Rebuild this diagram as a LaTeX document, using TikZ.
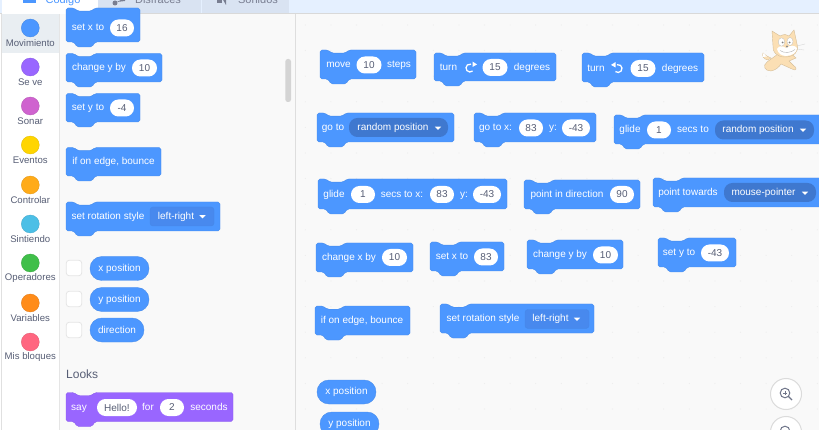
\documentclass[tikz,border=0pt]{standalone}
\usepackage{fontspec}
\setmainfont{Liberation Sans}
\definecolor{motion}{HTML}{4C97FF}
\definecolor{motionedge}{HTML}{4A8DEB}
\definecolor{menudark}{HTML}{3F78CF}
\definecolor{menulite}{HTML}{4889EE}
\definecolor{looks}{HTML}{9966FF}
\definecolor{inktext}{HTML}{575E75}
\definecolor{canvas}{HTML}{F9F9F9}
\definecolor{headbg}{HTML}{E5F0FF}
\definecolor{tabbg}{HTML}{D9E3F2}
\definecolor{catfur}{HTML}{FBDFB4}
\definecolor{activecat}{HTML}{E9EEF2}
\newcommand{\blockshape}[5]{%
  \path[fill=#5,draw=#5!92!black,line width=.4pt,rounded corners=1.8pt]
    (#1,#2) -- (#1+8,#2) -- (#1+12,#2+3.2) -- (#1+25,#2+3.2) -- (#1+29,#2)
    -- (#1+#3,#2) -- (#1+#3,#2+#4) -- (#1+29,#2+#4) -- (#1+26,#2+#4+5)
    -- (#1+11,#2+#4+5) -- (#1+8,#2+#4) -- (#1,#2+#4) -- cycle;}
\newcommand{\droparrow}[3]{\fill[#3] (#1-3.2,#2-1.4) -- (#1+3.2,#2-1.4) -- (#1,#2+1.8) -- cycle;}
\tikzset{
  btxt/.style={text=white,font=\fontsize{10}{12}\selectfont,inner sep=0pt,text height=7.2pt,text depth=2pt},
  pillbox/.style={fill=white,text=inktext,font=\fontsize{10}{12}\selectfont,rounded corners=8.4pt,minimum height=17pt,inner sep=0pt},
  menubox/.style={fill=menudark,text=white,rounded corners=8.4pt,minimum height=19pt,inner sep=0pt},
  rotbox/.style={fill=menulite,draw=menudark!50!motion,line width=.4pt,text=white,rounded corners=3pt,minimum height=19pt,inner sep=0pt},
  reporter/.style={fill=motion,draw=motionedge,line width=.4pt,text=white,font=\fontsize{10}{12}\selectfont,rounded corners=11.8pt,minimum height=24pt,inner sep=0pt},
  catlabel/.style={text=inktext,font=\fontsize{9.6}{11}\selectfont,inner sep=0pt},
  catdot/.style={circle,minimum size=18pt,inner sep=0pt},
  checkb/.style={fill=white,draw=black!10,line width=.8pt,rounded corners=3pt,minimum size=15.5pt,inner sep=0pt},
  tabtxt/.style={font=\fontsize{11}{12}\selectfont,inner sep=0pt,anchor=base},
}
\begin{document}
\begin{tikzpicture}[x=1pt,y=-1pt]
\useasboundingbox (0,0) rectangle (819,430);
\clip (0,0) rectangle (819,430);
% backgrounds
\fill[white] (0,0) rectangle (819,430);
\fill[canvas] (59,14) rectangle (819,430);
\fill[headbg] (0,0) rectangle (819,13);
\fill[black!15] (0,13) rectangle (819,14);
\fill[white] (2,0) rectangle (98,14);
\fill[tabbg] (98,0) rectangle (201,13);
\fill[tabbg] (202,0) rectangle (289,13);
\fill[black!12] (1,14) rectangle (2,430);
\fill[black!10] (59,14) rectangle (60,430);
\fill[black!13] (295,14) rectangle (296,430);
\foreach \i in {0,...,20}{\foreach \j in {0,...,16}{
  \fill[black!7] (305.3+\i*25.6,25+\j*25.6) circle (.6);}}
\fill[black!17,rounded corners=2.5pt] (285.3,59) rectangle (291,102);
% tabs
\fill[motion] (23,-4) rectangle (36,3.5);
\node[tabtxt,text=motion] (tabcode) at (63,3.2) {Código};
\fill[inktext!80] (115,3) circle (2.5); \fill[inktext!80] (117,2) -- (125,-2) -- (125,1) -- cycle;
\node[tabtxt,text=inktext!80] (tabcost) at (158,3.2) {Disfraces};
\fill[inktext!80] (217,-2) rectangle (222,3); \fill[inktext!80] (222,-2) -- (226,-2) -- (226,5) -- cycle;
\node[tabtxt,text=inktext!80] (tabsound) at (258,3.2) {Sonidos};
% category column
\fill[activecat] (2,14) rectangle (59,53);
\foreach \lbl/\n/\col/\yy in {
 Movimiento/a/4C97FF/28, Se ve/b/9966FF/67, Sonar/c/CF63CF/106, Eventos/d/FFD500/145,
 Controlar/e/FFAB19/185, Sintiendo/f/4CBFE6/224, Operadores/g/40BF4A/263, Variables/h/FF8C1A/303, Mis bloques/i/FF6680/342}{
  \definecolor{dotc}{HTML}{\col}
  \node[catdot,fill=dotc,draw=dotc!88!black,line width=.3pt] (dot\n) at (30.3,\yy) {};
  \node[catlabel] (lab\n) at (30.3,\yy+15.5) {\lbl};
}
% palette blocks
\blockshape{66}{8}{74}{34}{motion}
\node[btxt] (ptxa) at (88,28) {set x to};
\node[pillbox,minimum width=24pt] (ppa) at (122,28) {16};
\blockshape{66}{53.5}{96}{28.5}{motion}
\node[btxt] (ptxb) at (99,68) {change y by};
\node[pillbox,minimum width=25pt] (ppb) at (144.5,68) {10};
\blockshape{66}{93.5}{74}{28.5}{motion}
\node[btxt] (ptxc) at (88,108) {set y to};
\node[pillbox,minimum width=24pt] (ppc) at (122,108) {-4};
\blockshape{66}{147.5}{95}{28.5}{motion}
\node[btxt] (ptxd) at (113.5,162) {if on edge, bounce};
\blockshape{66}{202}{154}{29}{motion}
\node[btxt] (ptxe) at (108,216.5) {set rotation style};
\node[rotbox,minimum width=64pt] (pme) at (182,216.5) {};
\node[btxt] (ptme) at (176,216.5) {left-right};
\droparrow{202.5}{216.5}{white}
\node[checkb] (cka) at (74,268) {};
\node[checkb] (ckb) at (74,299) {};
\node[checkb] (ckc) at (74,330) {};
\node[reporter,minimum width=59pt] (pra) at (119.5,268.5) {x position};
\node[reporter,minimum width=59pt] (prb) at (119.5,299.5) {y position};
\node[reporter,minimum width=54pt] (prc) at (117,330) {direction};
\node[text=inktext,font=\fontsize{12}{14}\selectfont,inner sep=0pt,anchor=west] (lookshead) at (66,374) {Looks};
\blockshape{66}{392.5}{167}{29}{looks}
\node[btxt] (sa) at (79,407.5) {say};
\node[pillbox,minimum width=40pt] (sb) at (117,407.5) {Hello!};
\node[btxt] (sc) at (148,407.5) {for};
\node[pillbox,minimum width=24pt] (sd) at (172,407.5) {2};
\node[btxt] (se) at (209,407.5) {seconds};
% workspace row 1
\blockshape{320}{50}{96}{29}{motion}
\node[btxt] (wa) at (338.5,65) {move};
\node[pillbox,minimum width=25pt] (wb) at (369,65) {10};
\node[btxt] (wc) at (399,65) {steps};
\blockshape{434}{53}{122}{28}{motion}
\node[btxt] (wd) at (448.5,67.5) {turn};
\draw[white,line width=1.3pt] (470,68) ++(50:4) arc[start angle=50,end angle=285,radius=4];
\fill[white] (472.5,61.6) -- (477,64.4) -- (472.5,67) -- cycle;
\node[pillbox,minimum width=25pt] (we) at (495,67.5) {15};
\node[btxt] (wf) at (532,67.5) {degrees};
\blockshape{582}{53}{122}{29}{motion}
\node[btxt] (wg) at (596,68.5) {turn};
\draw[white,line width=1.3pt] (618,68.5) ++(130:4) arc[start angle=130,end angle=-105,radius=4];
\fill[white] (615.5,62.1) -- (611,64.9) -- (615.5,67.5) -- cycle;
\node[pillbox,minimum width=25pt] (wh) at (643,68.5) {15};
\node[btxt] (wi) at (680,68.5) {degrees};
% workspace row 2
\blockshape{317}{113}{137}{29}{motion}
\node[btxt] (wj) at (333,128) {go to};
\node[menubox,minimum width=99pt] (wk) at (398.5,127.5) {};
\node[btxt] (wkt) at (393,128) {random position};
\droparrow{438}{128}{white}
\blockshape{474}{113}{122}{29}{motion}
\node[btxt] (wl) at (495.5,128) {go to x:};
\node[pillbox,minimum width=24pt] (wm) at (531,128) {83};
\node[btxt] (wn) at (553,128) {y:};
\node[pillbox,minimum width=28pt] (wo) at (576,128) {-43};
\blockshape{614}{115}{210}{29}{motion}
\node[btxt] (wp) at (630,130) {glide};
\node[pillbox,minimum width=24pt] (wq) at (659,130) {1};
\node[btxt] (wr) at (693,130) {secs to};
\node[menubox,minimum width=99pt] (ws) at (764.5,130) {};
\node[btxt] (wst) at (758,130) {random position};
\droparrow{803}{130}{white}
% workspace row 3
\blockshape{318}{179}{189}{30}{motion}
\node[btxt] (wt) at (334,194.5) {glide};
\node[pillbox,minimum width=24pt] (wu) at (363,194.5) {1};
\node[btxt] (wv) at (402,194.5) {secs to x:};
\node[pillbox,minimum width=24pt] (ww) at (442,194.5) {83};
\node[btxt] (wx) at (464,194.5) {y:};
\node[pillbox,minimum width=28pt] (wy) at (487,194.5) {-43};
\blockshape{524}{180}{116}{29}{motion}
\node[btxt] (wz) at (567,194.5) {point in direction};
\node[pillbox,minimum width=24pt] (xa) at (622,194.5) {90};
\blockshape{653}{178}{170}{29}{motion}
\node[btxt] (xb) at (688,193) {point towards};
\node[menubox,minimum width=92pt] (xc) at (770,192.5) {};
\node[btxt] (xct) at (763.5,193) {mouse-pointer};
\droparrow{805}{193}{white}
% workspace row 4
\blockshape{316}{243}{97}{29}{motion}
\node[btxt] (xd) at (349,257.5) {change x by};
\node[pillbox,minimum width=25pt] (xe) at (394.5,257.5) {10};
\blockshape{430}{242}{74}{29}{motion}
\node[btxt] (xf) at (452,257) {set x to};
\node[pillbox,minimum width=24pt] (xg) at (486,257) {83};
\blockshape{527}{240}{96}{29}{motion}
\node[btxt] (xh) at (560,255) {change y by};
\node[pillbox,minimum width=25pt] (xi) at (605.5,255) {10};
\blockshape{658}{238}{78}{29}{motion}
\node[btxt] (xj) at (679,253) {set y to};
\node[pillbox,minimum width=28pt] (xk) at (715,253) {-43};
% workspace row 5
\blockshape{315}{306}{95}{29}{motion}
\node[btxt] (xl) at (362,320.5) {if on edge, bounce};
\blockshape{440}{304}{154}{29}{motion}
\node[btxt] (xm) at (483,319) {set rotation style};
\node[rotbox,minimum width=64pt] (xn) at (557,319) {};
\node[btxt] (xnt) at (550.5,319) {left-right};
\droparrow{577}{319}{white}
% workspace reporters
\node[reporter,minimum width=59pt] (xo) at (346.5,392) {x position};
\node[reporter,minimum width=59pt] (xp) at (349.5,424) {y position};
% cat
\fill[catfur,draw=catfur!85!black,line width=.4pt] (767,62) .. controls (762,66) and (765,71) .. (771,71) .. controls (776,70) and (779,67) .. (781,64) -- (792,69) .. controls (797,72) and (797,67) .. (794,66) -- (789,61) -- (796,58) .. controls (793,53) and (784,53) .. (778,54) -- cycle;
\fill[catfur,draw=catfur!85!black,line width=.4pt] (768,60) .. controls (763,59) and (762,56) .. (763,53) .. controls (766,56) and (769,57) .. (771,58) -- cycle;
\fill[white] (762.5,57) .. controls (763,55) and (763,54) .. (763.5,53) .. controls (765,55) and (766,56) .. (767,56.5) -- cycle;
\fill[catfur,draw=catfur!85!black,line width=.4pt] (773,46) -- (772,31) -- (780,36) .. controls (784,34) and (787,34) .. (789,36) -- (794,30) -- (797,44) .. controls (800,52) and (793,57) .. (785,57) .. controls (777,57) and (772,52) .. (773,46) -- cycle;
\fill[white] (777,49) .. controls (779,45) and (783,46) .. (786,48) .. controls (790,45) and (795,45) .. (797,48) .. controls (797,53) and (791,56) .. (786,56) .. controls (781,56) and (778,53) .. (777,49) -- cycle;
\fill[white,draw=black!25,line width=.3pt] (781.5,42) ellipse (3.2 and 4.2);
\fill[white,draw=black!25,line width=.3pt] (790,41.5) ellipse (3 and 4);
\fill[black!50] (782.5,42.5) circle (1);
\fill[black!50] (789.5,42.5) circle (1);
\fill[black!45] (787,46.5) circle (1.1);
\draw[black!30,line width=.4pt] (780,50.5) .. controls (784,53.5) and (791,53) .. (795,49.5);
\draw[black!15,line width=.4pt] (797,46) -- (805,44) (797,49) -- (804,50);
% zoom buttons
\node[circle,fill=white,draw=black!14,line width=1pt,minimum size=31pt,inner sep=0pt] (zoomin) at (786,394) {};
\draw[inktext!85,line width=1pt] (785,393) circle (4.8);
\draw[inktext!85,line width=1.2pt] (788.6,396.6) -- (792,400);
\draw[inktext!85,line width=.8pt] (782.8,393) -- (787.2,393) (785,390.8) -- (785,395.2);
\node[circle,fill=white,draw=black!14,line width=1pt,minimum size=31pt,inner sep=0pt] (zoomout) at (786,432) {};
\draw[inktext!85,line width=1pt] (785,431) circle (4.8);
\end{tikzpicture}
\end{document}
